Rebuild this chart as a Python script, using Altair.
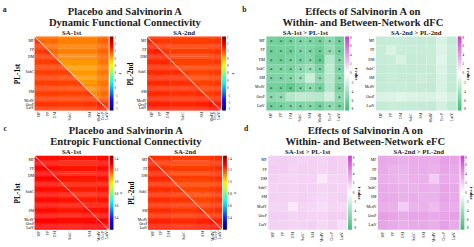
import altair as alt
import numpy as np
import pandas as pd

SERIF = "Liberation Serif"

networks = ["MF", "FP", "DM", "SubC", "SM", "MedV", "OccP", "LatV"]
net_sizes = [29, 34, 20, 90, 50, 18, 9, 18]

# ---- block means (network x network) of the node-level matrices ----
# dFC, SA-1st (upper triangle) / PL-1st (lower triangle)
dfc_sa1 = [
    [0.54, 0.54, 0.54, 0.50, 0.50, 0.54, 0.56, 0.56],
    [0.54, 0.54, 0.54, 0.50, 0.50, 0.54, 0.56, 0.56],
    [0.54, 0.54, 0.56, 0.49, 0.49, 0.54, 0.56, 0.56],
    [0.50, 0.50, 0.49, 0.45, 0.45, 0.50, 0.52, 0.52],
    [0.50, 0.50, 0.49, 0.45, 0.47, 0.51, 0.54, 0.54],
    [0.54, 0.54, 0.54, 0.50, 0.51, 0.59, 0.61, 0.61],
    [0.56, 0.56, 0.56, 0.52, 0.54, 0.61, 0.63, 0.63],
    [0.56, 0.56, 0.56, 0.52, 0.54, 0.61, 0.63, 0.63],
]
dfc_pl1 = [
    [0.65, 0.64, 0.64, 0.63, 0.63, 0.64, 0.65, 0.65],
    [0.64, 0.65, 0.64, 0.63, 0.63, 0.64, 0.65, 0.65],
    [0.64, 0.64, 0.65, 0.63, 0.63, 0.64, 0.65, 0.65],
    [0.63, 0.63, 0.63, 0.62, 0.62, 0.63, 0.64, 0.64],
    [0.63, 0.63, 0.63, 0.62, 0.63, 0.64, 0.65, 0.65],
    [0.64, 0.64, 0.64, 0.63, 0.64, 0.67, 0.68, 0.68],
    [0.65, 0.65, 0.65, 0.64, 0.65, 0.68, 0.69, 0.69],
    [0.65, 0.65, 0.65, 0.64, 0.65, 0.68, 0.69, 0.69],
]
dfc_sa2 = [
    [0.65, 0.64, 0.64, 0.63, 0.63, 0.64, 0.65, 0.65],
    [0.64, 0.65, 0.64, 0.63, 0.63, 0.64, 0.65, 0.65],
    [0.64, 0.64, 0.65, 0.63, 0.63, 0.64, 0.65, 0.65],
    [0.63, 0.63, 0.63, 0.62, 0.62, 0.63, 0.64, 0.64],
    [0.63, 0.63, 0.63, 0.62, 0.63, 0.64, 0.65, 0.65],
    [0.64, 0.64, 0.64, 0.63, 0.64, 0.67, 0.68, 0.68],
    [0.65, 0.65, 0.65, 0.64, 0.65, 0.68, 0.69, 0.69],
    [0.65, 0.65, 0.65, 0.64, 0.65, 0.68, 0.69, 0.69],
]
dfc_pl2 = [
    [0.69, 0.68, 0.68, 0.67, 0.67, 0.68, 0.69, 0.69],
    [0.68, 0.69, 0.68, 0.67, 0.67, 0.68, 0.69, 0.69],
    [0.68, 0.68, 0.69, 0.67, 0.67, 0.68, 0.69, 0.69],
    [0.67, 0.67, 0.67, 0.66, 0.66, 0.67, 0.68, 0.68],
    [0.67, 0.67, 0.67, 0.66, 0.67, 0.68, 0.69, 0.69],
    [0.68, 0.68, 0.68, 0.67, 0.68, 0.71, 0.72, 0.72],
    [0.69, 0.69, 0.69, 0.68, 0.69, 0.72, 0.73, 0.73],
    [0.69, 0.69, 0.69, 0.68, 0.69, 0.72, 0.73, 0.73],
]
# eFC
efc_sa1 = [
    [1.28, 1.28, 1.28, 1.27, 1.27, 1.28, 1.28, 1.28],
    [1.28, 1.28, 1.28, 1.27, 1.27, 1.28, 1.28, 1.28],
    [1.28, 1.28, 1.28, 1.27, 1.27, 1.28, 1.28, 1.28],
    [1.27, 1.27, 1.27, 1.26, 1.26, 1.27, 1.27, 1.27],
    [1.27, 1.27, 1.27, 1.26, 1.27, 1.27, 1.28, 1.28],
    [1.28, 1.28, 1.28, 1.27, 1.27, 1.29, 1.29, 1.29],
    [1.28, 1.28, 1.28, 1.27, 1.28, 1.29, 1.29, 1.29],
    [1.28, 1.28, 1.28, 1.27, 1.28, 1.29, 1.29, 1.29],
]
efc_pl1 = [
    [1.29, 1.29, 1.29, 1.28, 1.28, 1.29, 1.29, 1.29],
    [1.29, 1.29, 1.29, 1.28, 1.28, 1.29, 1.29, 1.29],
    [1.29, 1.29, 1.29, 1.28, 1.28, 1.29, 1.29, 1.29],
    [1.28, 1.28, 1.28, 1.27, 1.27, 1.28, 1.28, 1.28],
    [1.28, 1.28, 1.28, 1.27, 1.28, 1.28, 1.29, 1.29],
    [1.29, 1.29, 1.29, 1.28, 1.28, 1.30, 1.30, 1.30],
    [1.29, 1.29, 1.29, 1.28, 1.29, 1.30, 1.30, 1.30],
    [1.29, 1.29, 1.29, 1.28, 1.29, 1.30, 1.30, 1.30],
]
efc_sa2 = [
    [1.23, 1.23, 1.23, 1.22, 1.22, 1.23, 1.24, 1.24],
    [1.23, 1.23, 1.23, 1.22, 1.22, 1.23, 1.24, 1.24],
    [1.23, 1.23, 1.23, 1.22, 1.22, 1.23, 1.24, 1.24],
    [1.22, 1.22, 1.22, 1.21, 1.21, 1.22, 1.23, 1.23],
    [1.22, 1.22, 1.22, 1.21, 1.22, 1.23, 1.24, 1.24],
    [1.23, 1.23, 1.23, 1.22, 1.23, 1.25, 1.25, 1.25],
    [1.24, 1.24, 1.24, 1.23, 1.24, 1.25, 1.26, 1.26],
    [1.24, 1.24, 1.24, 1.23, 1.24, 1.25, 1.26, 1.26],
]
efc_pl2 = [
    [1.25, 1.25, 1.25, 1.24, 1.24, 1.25, 1.26, 1.26],
    [1.25, 1.25, 1.25, 1.24, 1.24, 1.25, 1.26, 1.26],
    [1.25, 1.25, 1.25, 1.24, 1.24, 1.25, 1.26, 1.26],
    [1.24, 1.24, 1.24, 1.23, 1.23, 1.24, 1.25, 1.25],
    [1.24, 1.24, 1.24, 1.23, 1.24, 1.25, 1.26, 1.26],
    [1.25, 1.25, 1.25, 1.24, 1.25, 1.27, 1.27, 1.27],
    [1.26, 1.26, 1.26, 1.25, 1.26, 1.27, 1.28, 1.28],
    [1.26, 1.26, 1.26, 1.25, 1.26, 1.27, 1.28, 1.28],
]

# ---- t-values of network-level contrasts ----
t_dfc_1 = [
    [-5.6, -5.8, -5.6, -5.2, -5.2, -5.6, -4.6, -5.8],
    [-5.8, -5.6, -5.8, -5.2, -5.2, -5.8, -4.4, -5.6],
    [-5.6, -5.8, -5.4, -5.4, -5.0, -6.4, -3.0, -5.2],
    [-5.2, -5.2, -5.4, -4.6, -4.0, -5.4, -2.6, -5.2],
    [-5.2, -5.2, -5.0, -4.0, -2.2, -4.6, -2.8, -5.0],
    [-5.6, -5.8, -6.4, -5.4, -4.6, -5.6, -3.0, -5.6],
    [-4.6, -4.4, -3.0, -2.6, -2.8, -3.0, -1.8, -4.6],
    [-5.8, -5.6, -5.2, -5.2, -5.0, -5.6, -4.6, -5.4],
]
sig_dfc_1 = [
    [1, 1, 1, 1, 1, 1, 1, 1],
    [1, 1, 1, 1, 1, 1, 1, 1],
    [1, 1, 1, 1, 1, 1, 0, 1],
    [1, 1, 1, 1, 1, 1, 0, 1],
    [1, 1, 1, 1, 0, 1, 0, 1],
    [1, 1, 1, 1, 1, 1, 0, 1],
    [1, 1, 0, 0, 0, 0, 0, 1],
    [1, 1, 1, 1, 1, 1, 1, 1],
]
t_dfc_2 = [
    [-2.4, -2.3, -2.3, -2.4, -2.4, -2.4, -1.6, -2.4],
    [-2.3, -1.6, -2.2, -2.3, -2.3, -2.3, -1.4, -2.2],
    [-2.3, -2.2, -1.6, -2.4, -2.4, -2.3, -1.2, -2.3],
    [-2.4, -2.3, -2.4, -2.5, -2.4, -2.4, -1.5, -2.4],
    [-2.4, -2.3, -2.4, -2.4, -2.2, -2.4, -1.6, -2.4],
    [-2.4, -2.3, -2.3, -2.4, -2.4, -2.5, -1.6, -2.5],
    [-1.6, -1.4, -1.2, -1.5, -1.6, -1.6, -1.2, -1.8],
    [-2.4, -2.2, -2.3, -2.4, -2.4, -2.5, -1.8, -2.6],
]
t_efc_1 = [
    [1.9, 2.0, 1.9, 1.8, 1.9, 1.7, 2.0, 1.9],
    [2.0, 2.0, 1.8, 1.9, 1.9, 1.8, 2.0, 1.9],
    [1.9, 1.8, 1.7, 1.8, 1.8, 0.9, 1.7, 1.8],
    [1.8, 1.9, 1.8, 1.9, 1.9, 1.7, 1.9, 1.8],
    [1.9, 1.9, 1.8, 1.9, 1.8, 1.6, 1.8, 1.9],
    [1.7, 1.8, 0.9, 1.7, 1.6, 1.3, 1.7, 1.5],
    [2.0, 2.0, 1.7, 1.9, 1.8, 1.7, 2.0, 1.9],
    [1.9, 1.9, 1.8, 1.8, 1.9, 1.5, 1.9, 1.3],
]
t_efc_2 = [
    [3.5, 3.4, 3.3, 3.4, 3.5, 3.3, 3.9, 3.7],
    [3.4, 3.1, 3.1, 3.3, 3.4, 3.2, 3.7, 3.5],
    [3.3, 3.1, 2.9, 3.2, 3.2, 2.1, 3.5, 3.3],
    [3.4, 3.3, 3.2, 3.1, 3.3, 3.1, 3.7, 3.5],
    [3.5, 3.4, 3.2, 3.3, 3.1, 3.1, 3.7, 3.5],
    [3.3, 3.2, 2.1, 3.1, 3.1, 2.7, 3.5, 3.3],
    [3.9, 3.7, 3.5, 3.7, 3.7, 3.5, 3.7, 3.9],
    [3.7, 3.5, 3.3, 3.5, 3.5, 3.3, 3.9, 3.5],
]
no_sig = [[0] * 8 for _ in range(8)]

jet = ["#00007f", "#0000ff", "#007fff", "#00ffff", "#7fff7f",
       "#ffff00", "#ff7f00", "#ff0000", "#7f0000"]
dfc_ticks = [-1, -0.8, -0.6, -0.4, -0.2, 0, 0.2, 0.4, 0.6, 0.8, 1]
efc_ticks = [0.4, 0.6, 0.8, 1, 1.2, 1.4]
t_ticks = [-8, -6, -4, -2, 0, 2, 4, 6, 8]

# ---- helpers ----
bounds = np.cumsum([0] + net_sizes)
centers = [float((bounds[k] + bounds[k + 1]) / 2) for k in range(8)]
N_NODES = int(bounds[-1])
BIN = 4
NB = N_NODES // BIN
OVER = 0.7  # slight overlap of neighbouring cells to hide antialias seams


def node_net(n):
    return int(np.searchsorted(bounds, n, side="right") - 1)


def big_df(upper, lower):
    """Node-bin matrix: upper triangle from `upper`, lower from `lower`,
    contiguous equal cells of a row merged into one run."""
    recs = []
    for i in range(NB):
        ni = node_net(i * BIN + BIN / 2)
        j = 0
        while j < NB:
            if j == i:
                j += 1
                continue
            nj = node_net(j * BIN + BIN / 2)
            v = upper[ni][nj] if j > i else lower[ni][nj]
            k = j + 1
            while k < NB and k != i:
                nk = node_net(k * BIN + BIN / 2)
                vk = upper[ni][nk] if k > i else lower[ni][nk]
                if vk != v:
                    break
                k += 1
            x1 = k * BIN + (OVER if k < NB and k != i else 0)
            y1 = (i + 1) * BIN + (OVER if i < NB - 1 else 0)
            recs.append({"x0": j * BIN, "x1": x1, "y0": i * BIN, "y1": y1, "v": v})
            j = k
    return pd.DataFrame(recs)


label_expr = " : ".join(
    f"datum.value < {bounds[k + 1]} ? '{networks[k]}'" for k in range(7)
) + f" : '{networks[7]}'"


def ptitle(text):
    return alt.TitleParams(text, font=SERIF, fontSize=7, fontWeight="bold",
                           offset=1, color="#222", anchor="middle")


def gtitle(lines):
    return alt.TitleParams(lines, font=SERIF, fontSize=11, fontWeight="bold",
                           lineHeight=11.5, offset=1, color="#222", anchor="middle")


def legend(title, values, length):
    return alt.Legend(type="gradient", title=title, titleOrient="right", values=values,
                      gradientLength=length, gradientThickness=4,
                      labelFontSize=3.2, labelFont=SERIF, titleFont=SERIF,
                      titleFontSize=4.5, titleFontWeight="bold", offset=1,
                      padding=0, labelOffset=1, labelOverlap=False,
                      titlePadding=1, gradientStrokeWidth=0, direction="vertical")


def big_panel(df, title, ytitle, domain_lo, domain_hi, ltitle, lvalues):
    dom = [float(v) for v in np.linspace(domain_lo, domain_hi, len(jet))]
    cscale = alt.Scale(type="linear", domain=dom, range=jet, interpolate="rgb")
    sx = alt.Scale(domain=[0, N_NODES], nice=False, zero=False)
    sy = alt.Scale(domain=[0, N_NODES], nice=False, zero=False, reverse=True)
    xax = alt.Axis(values=centers, labelExpr=label_expr, labelAngle=-90,
                   labelFontSize=4, labelFont=SERIF, domain=False, ticks=False,
                   labelPadding=1, grid=False, title=None, labelOverlap=False)
    yax = alt.Axis(values=centers, labelExpr=label_expr, labelFontSize=4,
                   labelFont=SERIF, domain=False, ticks=False, labelPadding=1,
                   grid=False, title=ytitle, titleFont=SERIF, titleFontSize=7.5,
                   titleFontWeight="bold", titlePadding=2, labelOverlap=False)
    return alt.Chart(df).mark_rect().encode(
        x=alt.X("x0:Q", scale=sx, axis=xax),
        x2="x1:Q",
        y=alt.Y("y0:Q", scale=sy, axis=yax),
        y2="y1:Q",
        color=alt.Color("v:Q", scale=cscale, legend=legend(ltitle, lvalues, 77)),
    ).properties(width=77, height=77, title=ptitle(title))


def small_panel(tmat, sig, title, width):
    recs = []
    for i in range(8):
        for j in range(8):
            recs.append({"row": networks[i], "col": networks[j],
                         "t": tmat[i][j], "sig": sig[i][j]})
    df = pd.DataFrame(recs)
    dscale = alt.Scale(domain=[-8, 0, 8], range=["#3cbd76", "#ffffff", "#cc3ccc"],
                       interpolate="rgb")
    xax = alt.Axis(labelAngle=-90, labelFontSize=4, labelFont=SERIF,
                   domain=False, ticks=False, labelPadding=2, title=None)
    yax = alt.Axis(labelFontSize=4, labelFont=SERIF, domain=False, ticks=False,
                   labelPadding=2, title=None)
    base = alt.Chart(df).encode(
        x=alt.X("col:N", sort=networks, axis=xax),
        y=alt.Y("row:N", sort=networks, axis=yax),
    )
    rect = base.mark_rect().encode(
        color=alt.Color("t:Q", scale=dscale, legend=legend("t-value", t_ticks, 77))
    )
    stars = base.transform_filter("datum.sig == 1").mark_text(
        text="*", fontSize=6, dy=1.5, color="#1b3326", font=SERIF
    )
    return alt.layer(rect, stars).properties(width=width, height=77, title=ptitle(title))


def letter(chart, ch):
    return alt.hconcat(chart, title=alt.TitleParams(
        ch, orient="left", anchor="end", angle=0, baseline="top",
        font=SERIF, fontSize=8, fontWeight="bold", offset=4, color="#222"
    )).resolve_scale(color="independent")


a1 = big_panel(big_df(dfc_sa1, dfc_pl1), "SA-1st", "PL-1st", -1, 1, "r", dfc_ticks)
a2 = big_panel(big_df(dfc_sa2, dfc_pl2), "SA-2nd", "PL-2nd", -1, 1, "r", dfc_ticks)
c1 = big_panel(big_df(efc_sa1, efc_pl1), "SA-1st", "PL-1st", 0.2, 1.45, "r", efc_ticks)
c2 = big_panel(big_df(efc_sa2, efc_pl2), "SA-2nd", "PL-2nd", 0.2, 1.45, "r", efc_ticks)
b1 = small_panel(t_dfc_1, sig_dfc_1, "SA-1st > PL-1st", 81)
b2 = small_panel(t_dfc_2, no_sig, "SA-2nd > PL-2nd", 84)
d1 = small_panel(t_efc_1, no_sig, "SA-1st > PL-1st", 82)
d2 = small_panel(t_efc_2, no_sig, "SA-2nd > PL-2nd", 85)

A = alt.hconcat(a1, a2, spacing=3, title=gtitle(
    ["Placebo and Salvinorin A", "Dynamic Functional Connectivity"])
).resolve_scale(color="independent")
B = alt.hconcat(b1, b2, spacing=5, title=gtitle(
    ["Effects of Salvinorin A on", "Within- and Between-Network dFC"])
).resolve_scale(color="independent")
C = alt.hconcat(c1, c2, spacing=3, title=gtitle(
    ["Placebo and Salvinorin A", "Entropic Functional Connectivity"])
).resolve_scale(color="independent")
D = alt.hconcat(d1, d2, spacing=4, title=gtitle(
    ["Effects of Salvinorin A on", "Within- and Between-Network eFC"])
).resolve_scale(color="independent")

row1 = alt.hconcat(letter(A, "a"), letter(B, "b"), spacing=6).resolve_scale(
    color="independent")
row2 = alt.hconcat(letter(C, "c"), letter(D, "d"), spacing=6).resolve_scale(
    color="independent")

chart = alt.vconcat(row1, row2, spacing=2).resolve_scale(
    color="independent"
).configure_view(strokeWidth=0).properties(
    padding={"left": 2, "top": 1, "right": 0, "bottom": 0}, background="white"
)

chart.save("out.html", embed_options={"renderer": "svg", "actions": False})
